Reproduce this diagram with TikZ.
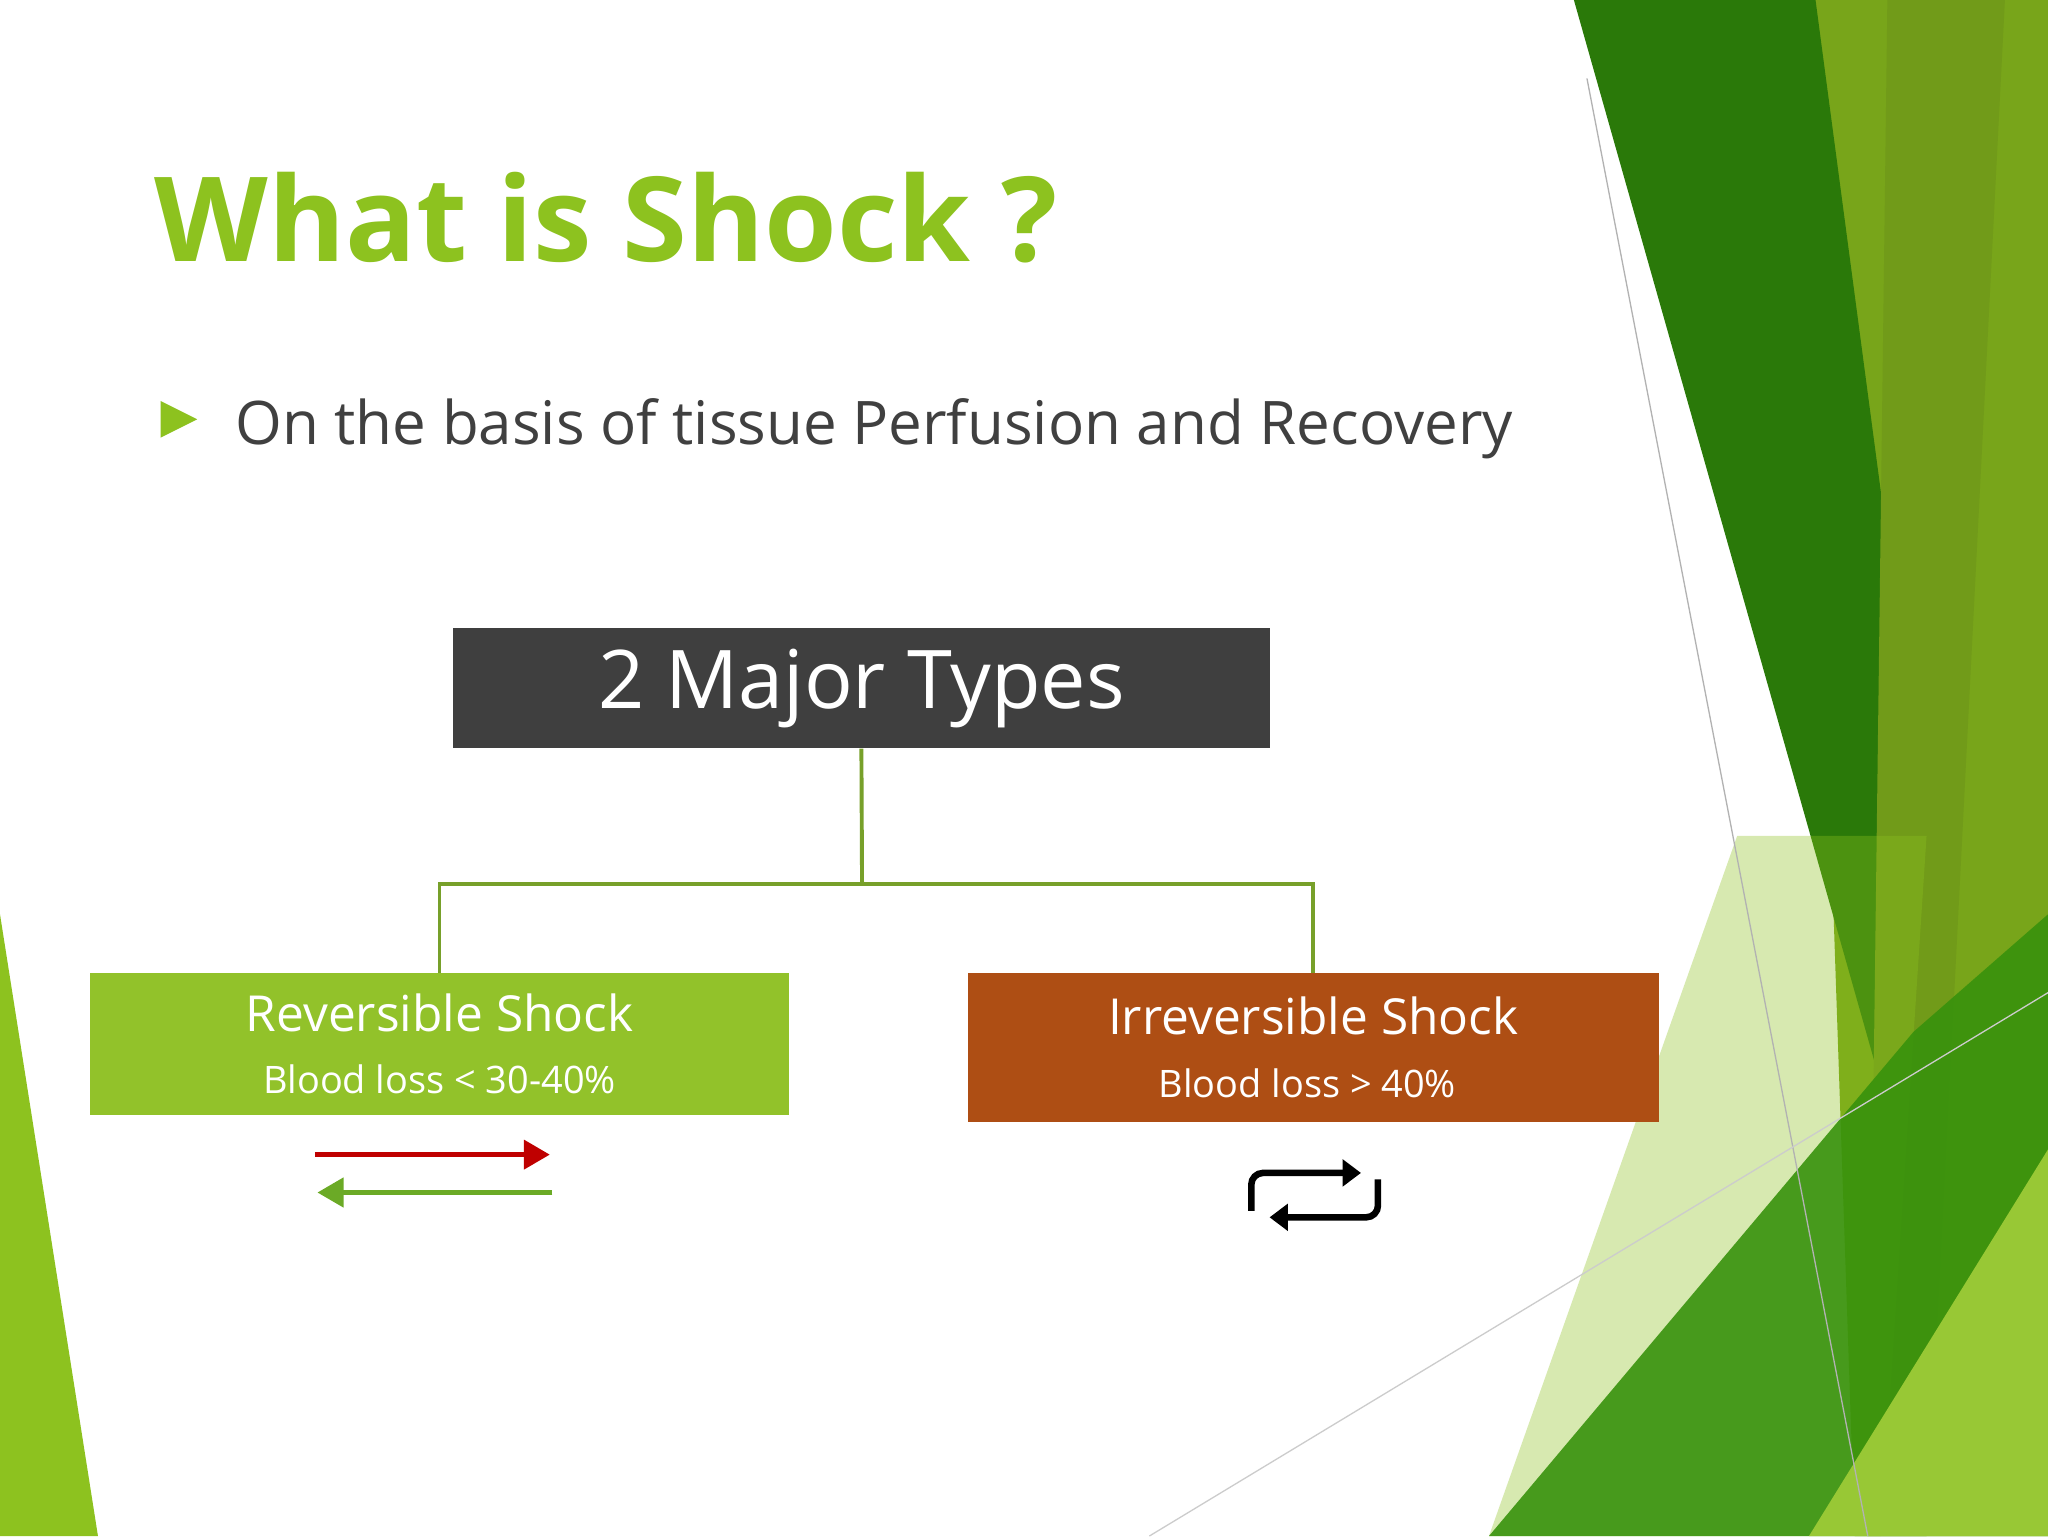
\documentclass[tikz,border=0pt]{standalone}
\usepackage{fontspec}
\setmainfont{Open Sans}
\usetikzlibrary{positioning,arrows.meta}
\definecolor{titlegreen}{HTML}{8DC21F}
\definecolor{darkbox}{HTML}{3F3F3F}
\definecolor{revgreen}{HTML}{92C22A}
\definecolor{irrorange}{HTML}{AE4E14}
\definecolor{linkgreen}{HTML}{77A02A}
\definecolor{bodygray}{HTML}{404040}
\tikzstyle{typebox} = [rectangle, minimum width=625pt, minimum height=92pt, text centered, fill=darkbox, text=white, font=\fontsize{62}{70}\selectfont]
\tikzstyle{shockbox} = [rectangle, text centered, text=white, align=center, inner sep=0pt]
\tikzstyle{link} = [line width=3pt, draw=linkgreen]
\tikzstyle{arrow} = [line width=4pt, -{Triangle[length=20pt,width=22pt]}]
\begin{document}
\begin{tikzpicture}[x=1pt, y=-1pt]
        \useasboundingbox (0,0) rectangle (1568,1176);
        \fill[white] (0,0) rectangle (1568,1176);
        % background shapes
        \fill[titlegreen] (0,700) -- (75,1176) -- (0,1176) -- cycle;
        \fill[titlegreen!85!black] (1380,0) -- (1568,0) -- (1568,1176) -- (1420,1176) -- cycle;
        \fill[green!35!black!70!titlegreen] (1205,0) -- (1390,0) -- (1475,640) -- (1440,830) -- cycle;
        \fill[titlegreen!80!black] (1445,0) -- (1535,0) -- (1475,1176) -- (1430,1176) -- cycle;
        \fill[titlegreen, opacity=0.35] (1330,640) -- (1475,640) -- (1440,1176) -- (1140,1176) -- cycle;
        \fill[green!45!black!60!titlegreen, opacity=0.9] (1465,790) -- (1568,700) -- (1568,1176) -- (1140,1176) -- cycle;
        \fill[titlegreen!90!white] (1568,880) -- (1568,1176) -- (1385,1176) -- cycle;
        \draw[gray!60, line width=1pt] (1215,60) -- (1430,1176);
        \draw[gray!40, line width=1pt] (880,1176) -- (1568,760);

        % title and bullet
        \node (title) [anchor=base west, text=titlegreen, font=\fontsize{90}{100}\selectfont\bfseries, inner sep=0pt] at (118,200) {What is Shock ?};
        \fill[titlegreen] (123,307) -- (151,321) -- (123,335) -- cycle;
        \node (basis) [anchor=base west, text=bodygray, font=\fontsize{46}{54}\selectfont, inner sep=0pt] at (180,340) {On the basis of tissue Perfusion and Recovery};

        % boxes
        \node (types) [typebox] at (659.5,527) {2 Major Types};
        \node (rev) [shockbox, fill=revgreen, minimum width=535pt, minimum height=109pt] at (336.5,799.5) {};
        \node (revtitle) [text=white, font=\fontsize{38}{44}\selectfont, anchor=base] at (336.5,790) {Reversible Shock};
        \node (revloss) [text=white, font=\fontsize{29}{34}\selectfont, anchor=base] at (336.5,837) {Blood loss < 30-40\%};
        \node (irr) [shockbox, fill=irrorange, minimum width=529pt, minimum height=114pt] at (1005.5,802) {};
        \node (irrtitle) [text=white, font=\fontsize{38}{44}\selectfont, anchor=base] at (1005.5,792) {Irreversible Shock};
        \node (irrloss) [text=white, font=\fontsize{29}{34}\selectfont, anchor=base] at (1001,840) {Blood loss > 40\%};

        % connectors
        \coordinate (split) at (660,677);
        \draw [link] (types.south) -- (split);
        \draw [link] (rev.north) |- (split) -| (irr.north);

        % icons
        \coordinate (redtail) at (241,884);
        \coordinate (redhead) at (421,884);
        \coordinate (greentail) at (423,913);
        \coordinate (greenhead) at (243,913);
        \draw [arrow, red!75!black] (redtail) -- (redhead);
        \draw [arrow, linkgreen!90!green] (greentail) -- (greenhead);
        \coordinate (loopa) at (958,927);
        \coordinate (loopb) at (1042,898);
        \coordinate (loopc) at (1055,903);
        \coordinate (loopd) at (972,932);
        \draw [line width=5pt, rounded corners=9pt, -{Triangle[length=14pt,width=20pt]}] (loopa) |- (loopb);
        \draw [line width=5pt, rounded corners=9pt, -{Triangle[length=14pt,width=20pt]}] (loopc) |- (loopd);
    \end{tikzpicture}
\end{document}
